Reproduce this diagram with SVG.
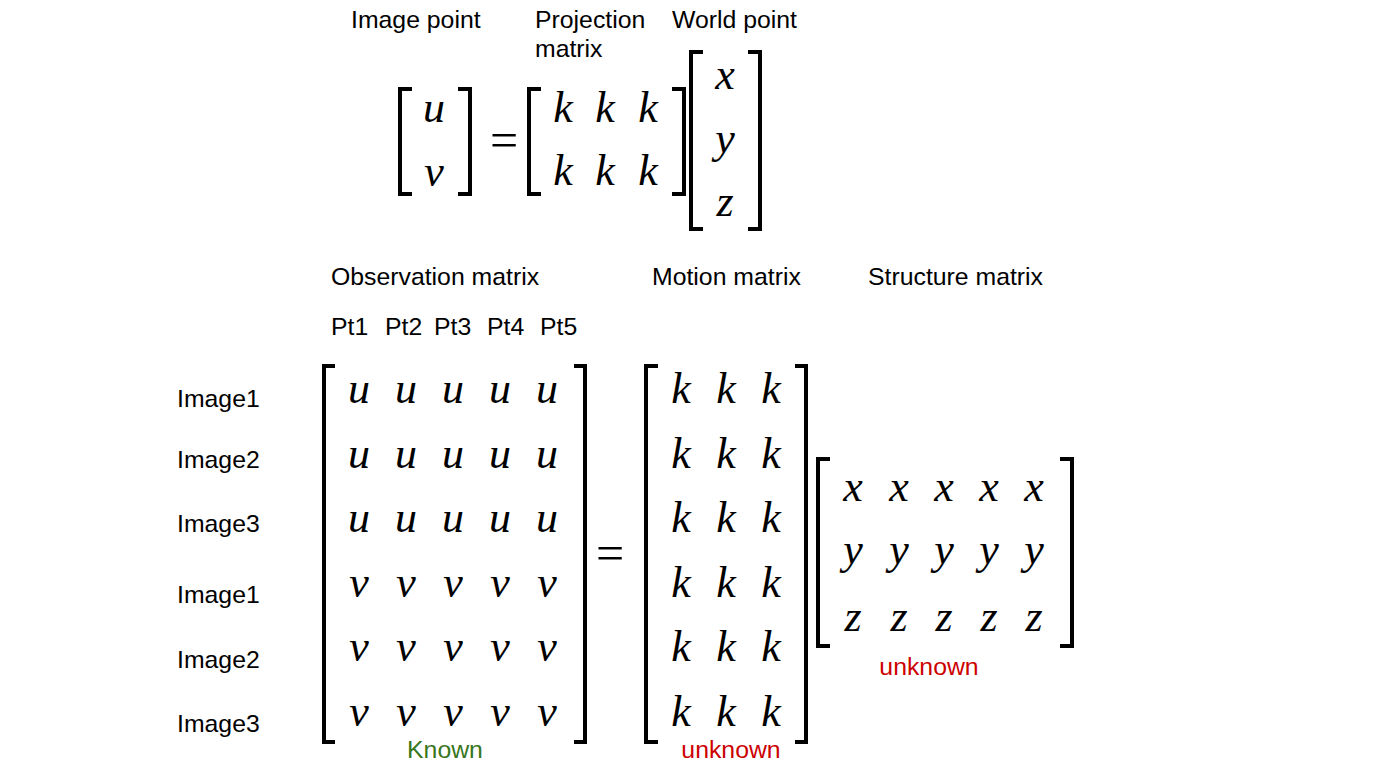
<svg xmlns="http://www.w3.org/2000/svg" width="1400" height="770" viewBox="0 0 1400 770">
<style>
.lbl{font-family:"Liberation Sans",Arial,sans-serif;font-size:24.8px;fill:#000}
.m{font-family:"Liberation Serif","Times New Roman",serif;font-style:italic;font-size:44px;fill:#000;text-anchor:middle}
.eq{font-family:"Liberation Serif","Times New Roman",serif;font-size:50px;fill:#000;text-anchor:middle}
.br{fill:none;stroke:#000;stroke-width:4}
.red{font-family:"Liberation Sans",Arial,sans-serif;font-size:24.8px;fill:#cc0000;text-anchor:middle}
.grn{font-family:"Liberation Sans",Arial,sans-serif;font-size:24.8px;fill:#38761d;text-anchor:middle}
</style>
<rect width="1400" height="770" fill="#fff"/>
<g id="top-labels">
<text class="lbl" x="351" y="28">Image point</text>
<text class="lbl" x="535" y="28">Projection</text>
<text class="lbl" x="535" y="57">matrix</text>
<text class="lbl" x="672" y="28">World point</text>
</g>
<g id="image-point">
<path class="br" d="M412,89 H400 V194 H412"/>
<path class="br" d="M458,89 H470 V194 H458"/>
<text class="m" x="434" y="122">u</text>
<text class="m" x="434" y="186">v</text>
</g>
<text class="eq" x="504" y="157">=</text>
<g id="projection-matrix">
<path class="br" d="M541,89 H529 V194 H541"/>
<path class="br" d="M672,89 H684 V194 H672"/>
<text class="m" x="563" y="122">k</text><text class="m" x="605" y="122">k</text><text class="m" x="648" y="122">k</text>
<text class="m" x="563" y="185">k</text><text class="m" x="605" y="185">k</text><text class="m" x="648" y="185">k</text>
</g>
<g id="world-point">
<path class="br" d="M703,52 H691 V229 H703"/>
<path class="br" d="M748,52 H760 V229 H748"/>
<text class="m" x="725" y="89">x</text>
<text class="m" x="725" y="153">y</text>
<text class="m" x="725" y="216">z</text>
</g>
<g id="bottom-labels">
<text class="lbl" x="331" y="285">Observation matrix</text>
<text class="lbl" x="652" y="285">Motion matrix</text>
<text class="lbl" x="868" y="285">Structure matrix</text>
<text class="lbl" x="331" y="335">Pt1</text>
<text class="lbl" x="385" y="335">Pt2</text>
<text class="lbl" x="434" y="335">Pt3</text>
<text class="lbl" x="487" y="335">Pt4</text>
<text class="lbl" x="540" y="335">Pt5</text>
<text class="lbl" x="177" y="407">Image1</text>
<text class="lbl" x="177" y="468">Image2</text>
<text class="lbl" x="177" y="532">Image3</text>
<text class="lbl" x="177" y="603">Image1</text>
<text class="lbl" x="177" y="668">Image2</text>
<text class="lbl" x="177" y="732">Image3</text>
</g>
<g id="observation-matrix">
<path class="br" d="M335,366 H324 V742 H335"/>
<path class="br" d="M574,366 H585 V742 H574"/>
<g class="m">
<text x="359" y="403">u</text><text x="406" y="403">u</text><text x="453" y="403">u</text><text x="500" y="403">u</text><text x="547" y="403">u</text>
<text x="359" y="468">u</text><text x="406" y="468">u</text><text x="453" y="468">u</text><text x="500" y="468">u</text><text x="547" y="468">u</text>
<text x="359" y="532">u</text><text x="406" y="532">u</text><text x="453" y="532">u</text><text x="500" y="532">u</text><text x="547" y="532">u</text>
<text x="359" y="597">v</text><text x="406" y="597">v</text><text x="453" y="597">v</text><text x="500" y="597">v</text><text x="547" y="597">v</text>
<text x="359" y="661">v</text><text x="406" y="661">v</text><text x="453" y="661">v</text><text x="500" y="661">v</text><text x="547" y="661">v</text>
<text x="359" y="726">v</text><text x="406" y="726">v</text><text x="453" y="726">v</text><text x="500" y="726">v</text><text x="547" y="726">v</text>
</g>
<text class="grn" x="445" y="758">Known</text>
</g>
<text class="eq" x="610" y="570">=</text>
<g id="motion-matrix">
<path class="br" d="M658,366 H646 V742 H658"/>
<path class="br" d="M795,366 H806 V742 H795"/>
<g class="m">
<text x="681" y="403">k</text><text x="726" y="403">k</text><text x="771" y="403">k</text>
<text x="681" y="468">k</text><text x="726" y="468">k</text><text x="771" y="468">k</text>
<text x="681" y="532">k</text><text x="726" y="532">k</text><text x="771" y="532">k</text>
<text x="681" y="597">k</text><text x="726" y="597">k</text><text x="771" y="597">k</text>
<text x="681" y="661">k</text><text x="726" y="661">k</text><text x="771" y="661">k</text>
<text x="681" y="726">k</text><text x="726" y="726">k</text><text x="771" y="726">k</text>
</g>
<text class="red" x="731" y="758">unknown</text>
</g>
<g id="structure-matrix">
<path class="br" d="M830,459 H818 V646 H830"/>
<path class="br" d="M1060,459 H1072 V646 H1060"/>
<g class="m">
<text x="853" y="501">x</text><text x="899" y="501">x</text><text x="944" y="501">x</text><text x="989" y="501">x</text><text x="1034" y="501">x</text>
<text x="853" y="564">y</text><text x="899" y="564">y</text><text x="944" y="564">y</text><text x="989" y="564">y</text><text x="1034" y="564">y</text>
<text x="853" y="631">z</text><text x="899" y="631">z</text><text x="944" y="631">z</text><text x="989" y="631">z</text><text x="1034" y="631">z</text>
</g>
<text class="red" x="929" y="675">unknown</text>
</g>
</svg>
